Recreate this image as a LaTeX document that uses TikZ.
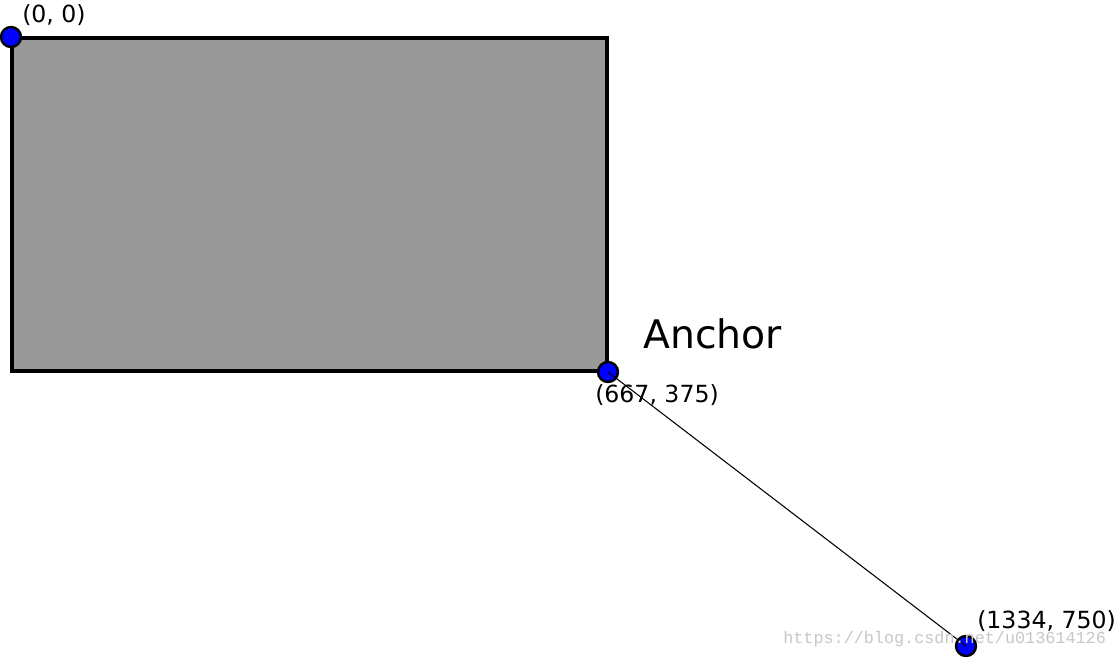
\documentclass[tikz,border=0pt]{standalone}
\usepackage{fontspec}
\setmainfont{DejaVu Sans}
\newfontfamily\wmfont{Liberation Mono}
\begin{document}
\begin{tikzpicture}[x=0.75pt,y=-0.75pt,
  pt/.style={circle,draw=black,fill=blue,line width=1.8pt,minimum size=15pt,inner sep=0pt,outer sep=0pt},
  coordlabel/.style={anchor=base west,inner sep=0pt,font=\fontsize{17.7pt}{20pt}\selectfont},
  biglabel/.style={anchor=base west,inner sep=0pt,font=\fontsize{29.5pt}{32pt}\selectfont},
  box/.style={draw=black,fill=black!40,line width=2.6pt}]
\useasboundingbox (0,0) rectangle (1117,658);
\fill[white] (0,0) rectangle (1117,658);
\draw[box] (12,38) rectangle (607,371);
\node[pt] (p0) at (11,37) {};
\node[pt] (p1) at (608,372) {};
\node[pt] (p2) at (966,646) {};
\draw[line width=0.8pt] (p1.center) -- (p2.center);
\node[coordlabel] (l0) at (22,22) {(0, 0)};
\node[biglabel] (anc) at (643,348) {Anchor};
\node[coordlabel] (l1) at (595,402) {(667, 375)};
\node[coordlabel] (l2) at (977,628) {(1334, 750)};
\node[anchor=base west,inner sep=0pt,text=black!22,font=\wmfont\fontsize{12.6pt}{14pt}\selectfont] (wm) at (783,643) {https://blog.csdn.net/u013614126};
\end{tikzpicture}
\end{document}
